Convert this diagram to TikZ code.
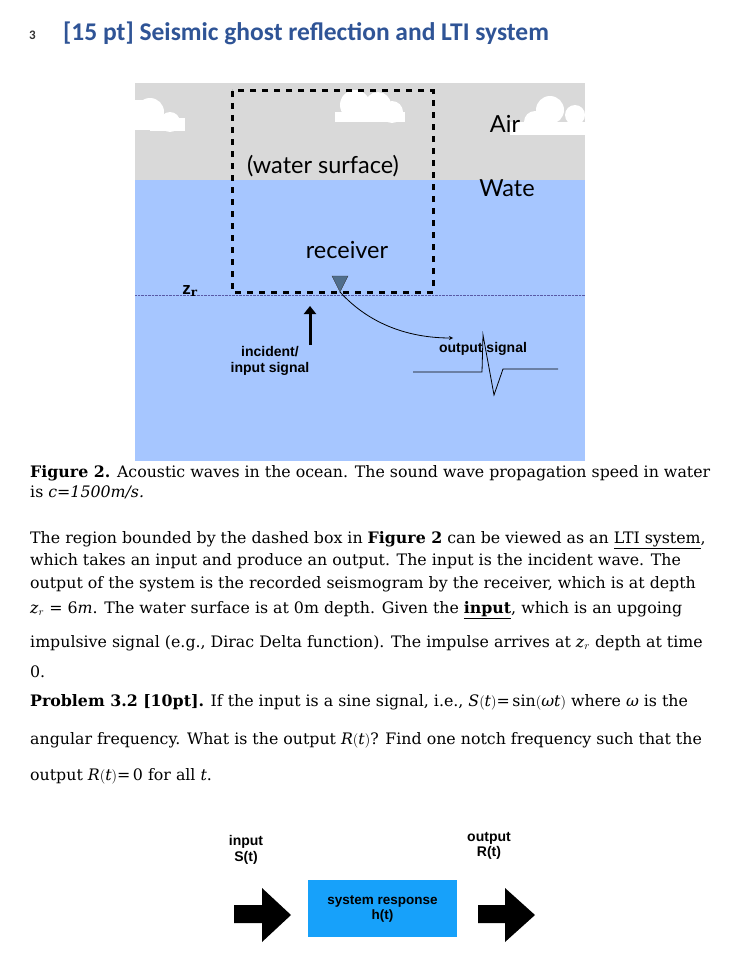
\documentclass[tikz,border=0pt]{standalone}
\usepackage{fontspec}
\usetikzlibrary{arrows.meta}
\setmainfont{DejaVu Serif}
\newfontfamily\hd{Carlito}
\newfontfamily\lsans{Liberation Sans}
\newfontfamily\gs{Lato}
\definecolor{titleblue}{RGB}{47,84,150}
\definecolor{water}{RGB}{166,198,255}
\definecolor{recv}{RGB}{80,110,140}
\definecolor{sysblue}{RGB}{23,161,250}
\begin{document}
\begin{tikzpicture}[x=1pt,y=-1pt,
  body/.style={anchor=west,inner sep=0pt,font=\fontsize{15.8}{17}\selectfont},
  lab/.style={inner sep=0pt,font=\lsans\bfseries\fontsize{14}{15.5}\selectfont},
  pic/.style={inner sep=0pt,font=\gs\fontsize{23.5}{25}\selectfont},
  cloud/.style={fill=white},
  bigarrow/.style={fill=black}]
\useasboundingbox (0,0) rectangle (750,979);
\fill[white] (0,0) rectangle (750,979);
% title
\node[anchor=west,inner sep=0pt,font=\hd\bfseries\fontsize{13}{15}\selectfont,text=black!80] (num) at (29,35) {3};
\node[anchor=west,inner sep=0pt,font=\hd\bfseries\fontsize{25.5}{28}\selectfont,text=titleblue] (title) at (63,33) {[15 pt] Seismic ghost reflection and LTI system};
% scene
\fill[gray!30] (135,83) rectangle (585,180);
\fill[water] (135,180) rectangle (585,461);
\begin{scope}[cloud]
\fill (150,112) circle (14); \fill (170,122) circle (10); \fill (135,100) rectangle (150,130); \fill (150,118) rectangle (185,131);
\fill (355,105) circle (15); \fill (378,105) circle (13); \fill (392,112) circle (11); \fill (335,112) rectangle (405,122);
\fill (550,110) circle (14); \fill (535,122) circle (11); \fill (575,115) circle (10); \fill (510,122) rectangle (585,135);
\end{scope}
\draw[densely dotted,gray!70!blue] (135,295) -- (585,295);
\draw[line width=3pt,dash pattern=on 6pt off 6pt] (232,91) rectangle (433,292);
\node[pic] (air) at (505,124) {Air};
\node[pic] (wate) at (507,188) {Wate};
\node[pic] (ws) at (323,166) {(water surface)};
\node[pic] (rec) at (347,250) {receiver};
\node[inner sep=0pt,font=\lsans\bfseries\fontsize{17}{18}\selectfont] (zr) at (190,291) {z$_{\mathbf r}$};
\filldraw[fill=recv,draw=black!80] (332,276) -- (348,276) -- (340,292) -- cycle;
\coordinate (rx) at (340,292);
\coordinate (oe) at (453,338);
\draw[-stealth,black,thick] (rx) .. controls (370,325) and (410,338) .. (oe);
\coordinate (ab) at (310,345);
\coordinate (at) at (310,306);
\draw[line width=3pt,-{Triangle[length=8pt,width=12pt]}] (ab) -- (at);
\node[lab,align=center] (inc) at (270,361) {incident/\\input signal};
\node[lab] (out) at (483,349) {output signal};
\draw[black,thick] (413,372) -- (482,372) -- (483,335) -- (494,395) -- (503,369) -- (558,369);
% body text
\node[body] (l1) at (30,473) {\textbf{Figure 2.} Acoustic waves in the ocean. The sound wave propagation speed in water};
\node[body] (l2) at (30,492) {is \textit{c=1500m/s.}};
\node[body] (l3) at (30,540) {The region bounded by the dashed box in  \textbf{Figure 2} can be viewed as an \underline{LTI system},};
\node[body] (l4) at (30,561) {which takes an input and produce an output. The input is the incident wave. The};
\node[body] (l5) at (30,584) {output of the system is the recorded seismogram by the receiver, which is at depth};
\node[body] (l6) at (30,610) {\textit{z}$_{r}$ = 6\textit{m}. The water surface is at 0m depth.  Given the \textbf{\underline{input}}, which is an upgoing};
\node[body] (l7) at (30,643) {impulsive signal (e.g., Dirac Delta function). The impulse arrives at \textit{z}$_{r}$ depth at time};
\node[body] (l8) at (30,672) {0.};
\node[body] (l9) at (30,702) {\textbf{Problem 3.2 [10pt].} If the input is a sine signal, i.e., \textit{S}$\bigl($\textit{t}$\bigr)$=\,sin$\bigl($\textit{ωt}$\bigr)$ where \textit{ω} is the};
\node[body] (l10) at (30,740) {angular frequency. What is the output \textit{R}$\bigl($\textit{t}$\bigr)$? Find one notch frequency such that the};
\node[body] (l11) at (30,776) {output \textit{R}$\bigl($\textit{t}$\bigr)$=\,0 for all \textit{t}.};
% block diagram
\node[lab,align=center] (in) at (246,850) {input\\S(t)};
\node[lab,align=center] (outR) at (489,846) {output\\R(t)};
\node[fill=sysblue,minimum width=149pt,minimum height=57pt,inner sep=0pt,align=center,font=\lsans\bfseries\fontsize{13.5}{15}\selectfont] (sys) at (382.5,908.5) {system response\\h(t)};
\fill[bigarrow] (234,905) -- (262,905) -- (262,888) -- (291,915) -- (262,942) -- (262,923) -- (234,923) -- cycle;
\fill[bigarrow] (478,905) -- (505,905) -- (505,888) -- (535,915) -- (505,942) -- (505,923) -- (478,923) -- cycle;
\end{tikzpicture}
\end{document}
